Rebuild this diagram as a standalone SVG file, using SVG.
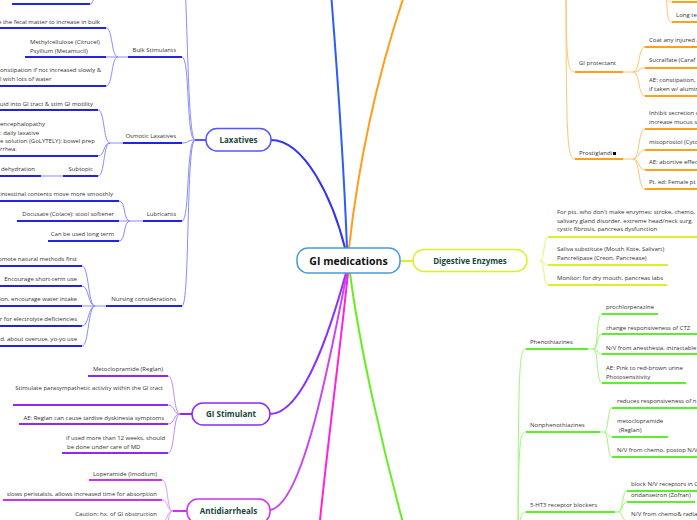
<svg xmlns="http://www.w3.org/2000/svg" width="697" height="520" viewBox="0 0 697 520">
<style>
.t{font-family:"Open Sans","Noto Sans",sans-serif;font-size:6px;fill:#333}
.e{text-anchor:end}
.n{font-family:"Open Sans","Noto Sans",sans-serif;font-size:8px;font-weight:bold;fill:#17463a;text-anchor:middle}
.ul{fill:none;stroke-width:2}
.cv{fill:none;stroke-width:1}
.bl .ul{stroke:#2323e6}.bl .cv,.cbl{stroke:#8a8aff}
.pu .ul{stroke:#8f2af5}.cpu{stroke:#b88cff}
.mg .ul{stroke:#cc33f0}.cmg{stroke:#e09cff}
.yg .ul{stroke:#d9f02a}.cyg{stroke:#e3f56a}
.or .ul{stroke:#ffa01c}.cor{stroke:#ffc46e}
.gr .ul{stroke:#5cf02a}.cgr{stroke:#9ef77a}
.main{fill:none;stroke-width:2}
</style>
<rect width="697" height="520" fill="#fff"/>
<g id="connectors" fill="none">
<!-- main connectors from center -->
<path class="main" stroke="#2b5cff" d="M347,248 C344,170 338,80 330,-20"/>
<path class="main" stroke="#ff9e1b" d="M349,248 C356,185 372,90 406,-10"/>
<path class="main" stroke="#3333ee" stroke-width="1.5" d="M271,140 C305,140 333,200 345,248"/>
<path class="main" stroke="#d9f02a" stroke-width="1.2" d="M400,261 L413,261"/>
<path class="main" stroke="#8833ff" stroke-width="1.3" d="M270,414 C305,414 333,320 346,273"/>
<path class="main" stroke="#cc44ee" stroke-width="1.3" d="M270,510 C305,505 333,340 347,273"/>
<path class="main" stroke="#ff22dd" d="M348,273 C340,350 328,440 319,530"/>
<path class="main" stroke="#66ee22" d="M350,273 C360,350 383,450 405,530"/>
<!-- Laxatives level 2 -->
<path stroke="#5555ff" stroke-width="2" d="M206,140 L195,140"/>
<g class="cbl" stroke-width="1">
<path d="M195,140 C186,140 188,-60 180,-60"/>
<path d="M195,140 C186,140 190,57 182,57"/>
<path d="M195,140 C186,140 190,143 182,143"/>
<path d="M195,140 C186,140 190,221 182,221"/>
<path d="M195,140 C186,140 190,306 182,306"/>
<!-- Bulk -->
<path d="M128,57 L118,57 C111,57 113,28 106,28"/>
<path d="M118,57 L106,57"/>
<path d="M118,57 C111,57 113,86 106,86"/>
<!-- Osmotic -->
<path d="M123,143 L110,143 C103,143 105,110 98,110"/>
<path d="M110,143 C103,143 105,156 98,156"/>
<path d="M110,143 C103,143 105,176 98,176"/>
<path d="M41,176 L63,176"/>
<!-- Lubricants -->
<path d="M143,221 L130,221 C123,221 126,201 119,201"/>
<path d="M130,221 L119,221"/>
<path d="M130,221 C123,221 126,241 119,241"/>
<!-- Nursing -->
<path d="M106,306 L95,306 C88,306 89,266 82,266"/>
<path d="M95,306 C88,306 89,286 82,286"/>
<path d="M95,306 L82,306"/>
<path d="M95,306 C88,306 89,326 82,326"/>
<path d="M95,306 C88,306 89,346 82,346"/>
<!-- top offscreen child -->
<path d="M90,4 C96,4 94,-20 100,-20"/>
</g>
<!-- GI Stimulant -->
<path stroke="#8f2af5" stroke-width="2" d="M192,414 L180,414"/>
<g class="cpu" stroke-width="1">
<path d="M180,414 C173,414 175,376 168,376"/>
<path d="M180,414 C173,414 175,405 168,405"/>
<path d="M180,414 C173,414 175,424 168,424"/>
<path d="M180,414 C173,414 175,453 168,453"/>
</g>
<!-- Antidiarrheals -->
<path stroke="#cc33f0" stroke-width="2" d="M187,511 L173,511"/>
<g class="cmg" stroke-width="1">
<path d="M173,511 C166,511 169,480 162,480"/>
<path d="M173,511 C166,511 169,500 162,500"/>
<path d="M173,511 C166,511 169,521 162,521"/>
<path d="M173,511 C166,511 169,541 162,541"/>
</g>
<!-- Digestive Enzymes -->
<g class="cyg" stroke-width="1">
<path d="M540,261 C545,261 543,237 548,237"/>
<path d="M540,261 C545,261 543,265 548,265"/>
<path d="M540,261 C545,261 543,285 548,285"/>
</g>
<!-- Orange branch -->
<g class="cor" stroke-width="1">
<path d="M566,-30 C566,60 567,72 575,72"/>
<path d="M566,-30 C566,140 567,159 575,159"/>
<path d="M623,72 L633,72 C640,72 638,47 645,47"/>
<path d="M633,72 C640,72 638,68 645,68"/>
<path d="M633,72 C640,72 638,96 645,96"/>
<path d="M623,159 L633,159 C640,159 638,129 645,129"/>
<path d="M633,159 C640,159 638,150 645,150"/>
<path d="M633,159 C640,159 638,170 645,170"/>
<path d="M633,159 C640,159 638,189 645,189"/>
<path d="M666,-20 C667,2 668,2 672,2"/>
<path d="M666,-20 C667,20 668,22 672,22"/>
</g>
<!-- Green branch -->
<g class="cgr" stroke-width="1">
<path d="M518,600 C518,360 519,349 526,349"/>
<path d="M518,600 C518,440 519,432 526,432"/>
<path d="M518,600 C518,520 519,512 526,512"/>
<path d="M588,349 L593,349 C599,349 596,314 602,314"/>
<path d="M593,349 C599,349 596,334 602,334"/>
<path d="M593,349 C599,349 596,354 602,354"/>
<path d="M593,349 C599,349 596,383 602,383"/>
<path d="M600,432 L604,432 C609,432 607,408 612,408"/>
<path d="M604,432 C609,432 607,437 612,437"/>
<path d="M604,432 C609,432 607,457 612,457"/>
<path d="M615,512 L618,512 C623,512 622,491 627,491"/>
<path d="M618,512 C623,512 622,502 627,502"/>
<path d="M618,512 C623,512 622,521 627,521"/>
</g>
</g>

<g id="center">
<rect x="297" y="248" width="103" height="25" rx="11" fill="#fff" stroke="#4a9ad8" stroke-width="1.5"/>
<text x="348.5" y="264.5" class="n" style="font-size:10.5px;fill:#111">GI medications</text>
</g>

<g id="laxatives" class="bl">
<rect x="206" y="128.5" width="65" height="22.5" rx="11" fill="#fff" stroke="#5555ff" stroke-width="1.5"/>
<text x="238.5" y="143" class="n">Laxatives</text>
</g>
<g id="top-offscreen-item" class="bl"><path class="ul" d="M12,4 L90,4"/></g>
<g id="bulk" class="bl">
<text x="176" y="52" class="t e">Bulk Stimulants</text><path class="ul" d="M128,57 L182,57"/>
</g>
<g id="bulk-1" class="bl"><text x="100" y="24" class="t e">e the fecal matter to increase in bulk</text><path class="ul" d="M-2,28 L106,28"/></g>
<g id="bulk-2" class="bl"><text x="30" y="44" class="t">Methylcellulose (Citrucel)</text><text x="30" y="52.5" class="t">Psyllium (Metamucil)</text><path class="ul" d="M25,57 L106,57"/></g>
<g id="bulk-3" class="bl"><text x="0" y="72" class="t">onstipation if not increased slowly &amp;</text><text x="0" y="81" class="t">l with lots of water</text><path class="ul" d="M-2,86 L106,86"/></g>

<g id="osmotic" class="bl">
<text x="176" y="138" class="t e">Osmotic Laxatives</text><path class="ul" d="M123,143 L182,143"/>
</g>
<g id="osm-1" class="bl"><text x="93" y="106" class="t e">uid into GI tract &amp; stim GI motility</text><path class="ul" d="M-2,110 L98,110"/></g>
<g id="osm-2" class="bl"><text x="0" y="126" class="t">encephalopathy</text><text x="0" y="134.5" class="t">: daily laxative</text><text x="0" y="143" class="t">e solution (GoLYTELY): bowel prep</text><text x="0" y="151" class="t">rrhea.</text><path class="ul" d="M-2,156 L98,156"/></g>
<g id="subtopic" class="bl"><text x="93" y="171" class="t e">Subtopic</text><path class="ul" d="M63,176 L98,176"/></g>
<g id="dehydration" class="bl"><text x="35" y="171" class="t e">dehydration</text><path class="ul" d="M-2,176 L41,176"/></g>

<g id="lubricants" class="bl">
<text x="176" y="215.5" class="t e">Lubricants</text><path class="ul" d="M143,221 L182,221"/>
</g>
<g id="lub-1" class="bl"><text x="113" y="195.5" class="t e">intestinal contents move more smoothly</text><path class="ul" d="M-2,201 L119,201"/></g>
<g id="lub-2" class="bl"><text x="114" y="215.5" class="t e">Docusate (Colace): stool softener</text><path class="ul" d="M17,221 L119,221"/></g>
<g id="lub-3" class="bl"><text x="114" y="236" class="t e">Can be used long term</text><path class="ul" d="M48,241 L119,241"/></g>

<g id="nursing" class="bl">
<text x="176" y="301" class="t e">Nursing considerations</text><path class="ul" d="M106,306 L182,306"/>
</g>
<g id="nur-1" class="bl"><text x="77" y="260.5" class="t e">omote natural methods first</text><path class="ul" d="M-2,266 L82,266"/></g>
<g id="nur-2" class="bl"><text x="77" y="281" class="t e">Encourage short-term use</text><path class="ul" d="M-2,286 L82,286"/></g>
<g id="nur-3" class="bl"><text x="77" y="301" class="t e">ion, encourage water intake</text><path class="ul" d="M-2,306 L82,306"/></g>
<g id="nur-4" class="bl"><text x="77" y="321" class="t e">r for electrolyte deficiencies</text><path class="ul" d="M-2,326 L82,326"/></g>
<g id="nur-5" class="bl"><text x="77" y="341" class="t e">d. about overuse, yo-yo use</text><path class="ul" d="M-2,346 L82,346"/></g>

<g id="gi-stimulant" class="pu">
<rect x="192" y="403" width="78" height="22" rx="11" fill="#fff" stroke="#8f2af5" stroke-width="1.5"/>
<text x="231" y="417" class="n">GI Stimulant</text>
</g>
<g id="gis-1" class="pu"><text x="163" y="371" class="t e">Metoclopramide (Reglan)</text><path class="ul" d="M88,376 L168,376"/></g>
<g id="gis-2" class="pu"><text x="163" y="390" class="t e">Stimulate parasympathetic activity within the GI tract</text><path class="ul" d="M13,405 L168,405"/></g>
<g id="gis-3" class="pu"><text x="164" y="420" class="t e">AE: Reglan can cause tardive dyskinesia symptoms</text><path class="ul" d="M19,424 L168,424"/></g>
<g id="gis-4" class="pu"><text x="66" y="440" class="t">if used more than 12 weeks, should</text><text x="67" y="448.5" class="t">be done under care of MD</text><path class="ul" d="M62,453 L168,453"/></g>

<g id="antidiarrheals" class="mg">
<rect x="187" y="499" width="83" height="24" rx="11" fill="#fff" stroke="#cc33f0" stroke-width="1.5"/>
<text x="228.5" y="514" class="n">Antidiarrheals</text>
</g>
<g id="ad-1" class="mg"><text x="157" y="475.5" class="t e">Loperamide (Imodium)</text><path class="ul" d="M89,480 L162,480"/></g>
<g id="ad-2" class="mg"><text x="157" y="496" class="t e">slows peristalsis, allows increased time for absorption</text><path class="ul" d="M3,500 L162,500"/></g>
<g id="ad-3" class="mg"><text x="157" y="516" class="t e">Caution: hx. of GI obstruction</text><path class="ul" d="M72,521 L162,521"/></g>

<g id="digestive-enzymes" class="yg">
<rect x="413" y="249.5" width="114" height="22" rx="11" fill="#fff" stroke="#d9f02a" stroke-width="1.5"/>
<text x="470" y="264" class="n">Digestive Enzymes</text>
</g>
<g id="de-1" class="yg"><text x="557" y="214" class="t">For pts. who don't make enzymes: stroke, chemo,</text><text x="557" y="222.5" class="t">salivary gland disorder, extreme head/neck surg.</text><text x="557" y="231" class="t">cystic fibrosis, pancreas dysfunction</text><path class="ul" d="M548,237 L699,237"/></g>
<g id="de-2" class="yg"><text x="557" y="251" class="t">Saliva substitute (Mouth Kote, Salivart)</text><text x="557" y="260" class="t">Pancrelipase (Creon, Pancrease)</text><path class="ul" d="M548,265 L668,265"/></g>
<g id="de-3" class="yg"><text x="557" y="280" class="t">Monitor: for dry mouth, pancreas labs</text><path class="ul" d="M548,285 L667,285"/></g>

<g id="or-top-1" class="or"><path class="ul" d="M672,2 L699,2"/></g>
<g id="or-top-2" class="or"><text x="676" y="17" class="t">Long te</text><path class="ul" d="M672,22 L699,22"/></g>
<g id="gi-protectant" class="or"><text x="579" y="65" class="t">GI protectant</text><path class="ul" d="M575,72 L623,72"/></g>
<g id="gip-1" class="or"><text x="649" y="42" class="t">Coat any injured a</text><path class="ul" d="M645,47 L699,47"/></g>
<g id="gip-2" class="or"><text x="649" y="62" class="t">Sucralfate (Caraf</text><path class="ul" d="M645,68 L699,68"/></g>
<g id="gip-3" class="or"><text x="649" y="82" class="t">AE: constipation,</text><text x="649" y="91" class="t">if taken w/ alumin</text><path class="ul" d="M645,96 L699,96"/></g>
<g id="prostiglandins" class="or"><text x="579" y="155" class="t">Prostiglandi</text><rect x="613" y="152" width="3" height="3" fill="#000"/><path class="ul" d="M575,159 L623,159"/></g>
<g id="pg-1" class="or"><text x="649" y="115" class="t">Inhibit secretion o</text><text x="649" y="124" class="t">increase mucus s</text><path class="ul" d="M645,129 L699,129"/></g>
<g id="pg-2" class="or"><text x="649" y="144" class="t">misoprostol (Cyto</text><path class="ul" d="M645,150 L699,150"/></g>
<g id="pg-3" class="or"><text x="649" y="164" class="t">AE: abortive effec</text><path class="ul" d="M645,170 L699,170"/></g>
<g id="pg-4" class="or"><text x="649" y="184" class="t">Pt. ed: Female pt</text><path class="ul" d="M645,189 L699,189"/></g>

<g id="phenothiazines" class="gr"><text x="530" y="344" class="t">Phenothiazines</text><path class="ul" d="M526,349 L588,349"/></g>
<g id="ph-1" class="gr"><text x="606" y="309" class="t">prochlorperazine</text><path class="ul" d="M602,314 L658,314"/></g>
<g id="ph-2" class="gr"><text x="606" y="330" class="t">change responsiveness of CTZ</text><path class="ul" d="M602,334 L699,334"/></g>
<g id="ph-3" class="gr"><text x="606" y="350" class="t">N/V from anesthesia, intractable</text><path class="ul" d="M602,354 L699,354"/></g>
<g id="ph-4" class="gr"><text x="606" y="370" class="t">AE: Pink to red-brown urine</text><text x="606" y="378.5" class="t">Photosensitivity</text><path class="ul" d="M602,383 L686,383"/></g>
<g id="nonphenothiazines" class="gr"><text x="530" y="427" class="t">Nonphenothiazines</text><path class="ul" d="M526,432 L600,432"/></g>
<g id="np-1" class="gr"><text x="617" y="403" class="t">reduces responsiveness of n</text><path class="ul" d="M612,408 L699,408"/></g>
<g id="np-2" class="gr"><text x="617" y="423" class="t">metoclopramide</text><text x="619" y="432" class="t">(Reglan)</text><path class="ul" d="M612,437 L668,437"/></g>
<g id="np-3" class="gr"><text x="617" y="451.5" class="t">N/V from chemo, postop N/V</text><path class="ul" d="M612,457 L699,457"/></g>
<g id="ht3" class="gr"><text x="530" y="507" class="t">5-HT3 receptor blockers</text><path class="ul" d="M526,512 L615,512"/></g>
<g id="ht-1" class="gr"><text x="631" y="486" class="t">block N/V receptors in C</text><path class="ul" d="M627,491 L699,491"/></g>
<g id="ht-2" class="gr"><text x="631" y="496.5" class="t">ondansetron (Zofran)</text><path class="ul" d="M627,502 L695,502"/></g>
<g id="ht-3" class="gr"><text x="631" y="516" class="t">N/V from chemo&amp; radia</text><path class="ul" d="M627,521 L699,521"/></g>
</svg>
